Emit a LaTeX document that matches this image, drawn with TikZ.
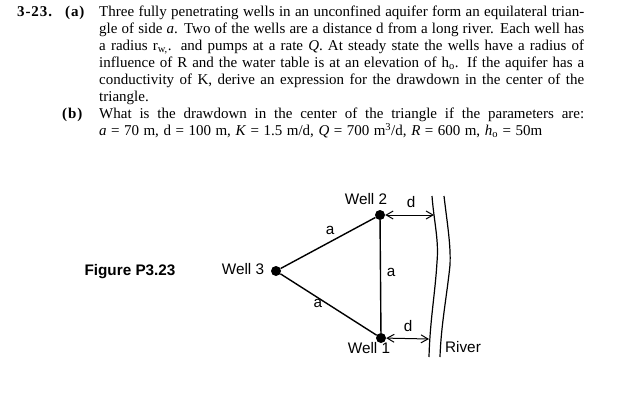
\documentclass[tikz,border=0pt]{standalone}
\usepackage{fontspec}
\setmainfont{Liberation Serif}
\newfontfamily\labelfont{Liberation Sans}
\usetikzlibrary{arrows.meta, positioning}

\begin{document}
\begin{tikzpicture}[x=1pt, y=-1pt,
  well/.style={circle, fill=black, inner sep=0pt, minimum size=10pt},
  link/.style={line width=1.4pt},
  gap/.style={line width=1pt, {Straight Barb[length=7pt, width=8pt]}-{Straight Barb[length=7pt, width=8pt]}},
  bank/.style={line width=1.2pt},
  lbl/.style={inner sep=0pt, font=\labelfont\fontsize{15.3}{17}\selectfont},
  para/.style={inner sep=0pt, anchor=north west, text width=485pt, align=justify, font=\fontsize{15}{17}\selectfont},
  tag/.style={inner sep=0pt, anchor=base west, font=\bfseries\fontsize{15}{17}\selectfont\addfontfeature{LetterSpace=6}}]
\useasboundingbox (0,0) rectangle (618,409);
\fill[white] (0,0) rectangle (618,409);
% Problem text
\node[tag] (num) at (17,17) {3-23.};
\node[tag] (parta) at (65,17) {(a)};
\node[tag] (partb) at (62,118) {(b)};
\node[para] (texta) at (99,6) {Three fully penetrating wells in an unconfined aquifer form an equilateral trian-\linebreak
gle of side \textit{a}. Two of the wells are a distance d from a long river. Each well has\linebreak
a radius r\textsubscript{w,}. and pumps at a rate \textit{Q}. At steady state the wells have a radius of\linebreak
influence of R and the water table is at an elevation of h\textsubscript{o}. If the aquifer has a\linebreak
conductivity of K, derive an expression for the drawdown in the center of the\linebreak
triangle.};
\node[para] (textb) at (99,108) {What is the drawdown in the center of the triangle if the parameters are:\linebreak
\makebox[443pt][s]{\textit{a} = 70 m, d = 100 m, \textit{K} = 1.5 m/d, \textit{Q} = 700 m\textsuperscript{3}/d, \textit{R} = 600 m, \textit{h}\textsubscript{o} = 50m}};
\node[inner sep=0pt, font=\labelfont\bfseries\fontsize{15.3}{17}\selectfont] (figname) at (130,272) {Figure P3.23};
% Wells
\node[well] (well2) at (380,215) {};
\node[well] (well1) at (381,338) {};
\node[well] (well3) at (276,271) {};
\draw[link] (well3) -- (well2);
\draw[link] (well2) -- (well1);
\draw[link] (well1) -- (well3);
% River
\draw[bank] (432,196) .. controls (434,222) and (439,240) .. (437,262) .. controls (435,295) and (430,320) .. (429,357);
\draw[bank] (444,196) .. controls (447,222) and (451,245) .. (450,265) .. controls (447,295) and (441,325) .. (440,357);
\coordinate (bank2) at (434,215);
\coordinate (bank1) at (429,339);
\draw[gap] (well2) -- (bank2);
\draw[gap] (well1) -- (bank1);
% Labels
\node[lbl] (namewell2) at (366,199) {Well 2};
\node[lbl] (namewell1) at (369,348) {Well 1};
\node[lbl] (namewell3) at (243,269) {Well 3};
\node[lbl] (nameriver) at (463,347) {River};
\node[lbl] (side23) at (330,230) {a};
\node[lbl] (side12) at (391,272) {a};
\node[lbl] (side13) at (318,303) {a};
\node[lbl] (dist2) at (411,202) {d};
\node[lbl] (dist1) at (408,326) {d};
\end{tikzpicture}
\end{document}
